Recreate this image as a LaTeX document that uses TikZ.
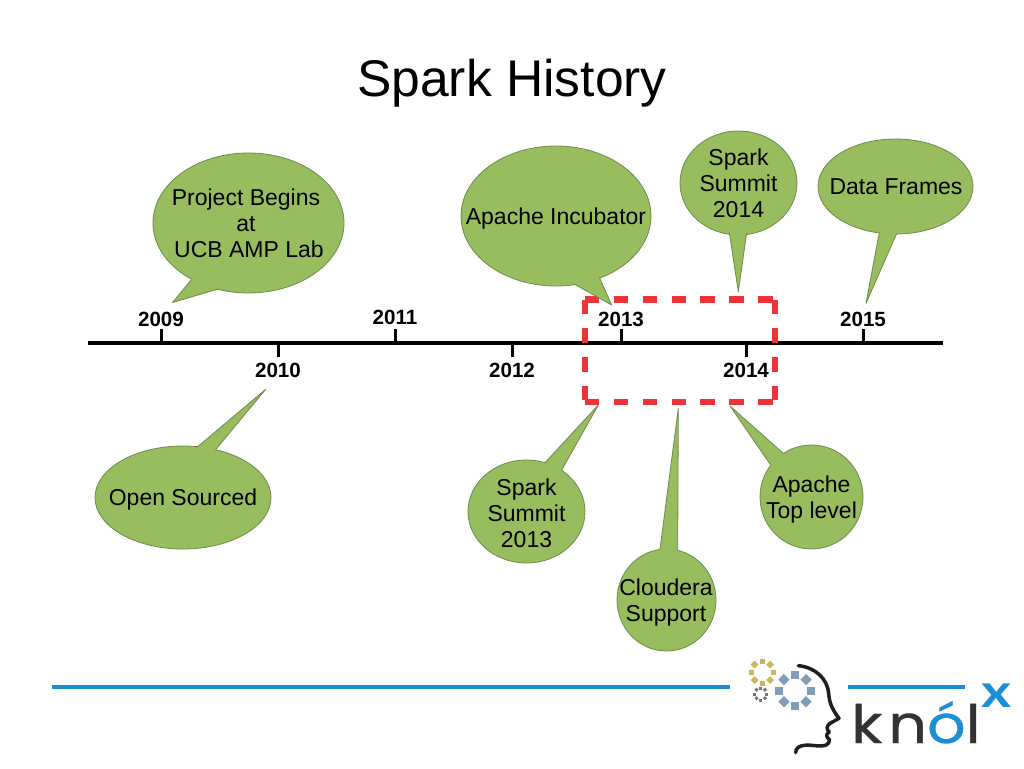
\documentclass[tikz,border=0pt]{standalone}
\usepackage{fontspec}
\setmainfont{Liberation Sans}
\newfontfamily\logofont[LetterSpace=10,FakeBold=0.6]{Poppins}
\newfontfamily\logoplain{Lato}
\usetikzlibrary{shapes.geometric,calc}
\definecolor{bub}{HTML}{97BD5E}
\definecolor{bubline}{HTML}{6F8A4A}
\definecolor{hl}{HTML}{EE3338}
\definecolor{rule}{HTML}{1B8FD6}
\definecolor{gold}{HTML}{CDB45E}
\definecolor{steel}{HTML}{7F9DB8}
\definecolor{ash}{HTML}{777777}
\tikzset{
  bubble/.style={ellipse,draw=bubline,fill=bub,line width=0.8pt,inner sep=0pt},
  saying/.style={font=\fontsize{23}{26}\selectfont,align=center,inner sep=0pt,text=black},
  yearlabel/.style={font=\fontsize{20.6}{24}\selectfont\bfseries,inner sep=0pt,text=black},
  tick/.style={line width=3pt,black},
  hlside/.style={hl,line width=6.6pt,dash pattern=on 14.4pt off 14.45pt},
  cell/.style={minimum size=#1,inner sep=0pt,draw=none}
}
% name, centre, width, height, tip, wedge base left, wedge base right
\newcommand\mybubble[7]{%
  \node[bubble,minimum width=#3pt,minimum height=#4pt] (#1) at (#2) {};
  \coordinate (#1tip) at (#5);
  \coordinate (#1l) at (#6);
  \coordinate (#1r) at (#7);
  \fill[bub] (#1tip) -- (#1l) -- (#1.center) -- (#1r) -- cycle;
  \draw[bubline,line width=0.8pt,line join=round] (#1l) -- (#1tip) -- (#1r);
}
\begin{document}
\begin{tikzpicture}[x=1pt,y=-1pt]
\useasboundingbox (0,0) rectangle (1024,768);
\fill[white] (0,0) rectangle (1024,768);
\node[font=\fontsize{51.6}{56}\selectfont,inner sep=0pt] (title) at (512,83) {Spark History};

% axis
\coordinate (axL) at (88,343); \coordinate (axR) at (943,343);
\draw[line width=4pt,black] (axL) -- (axR);
\foreach \n/\x/\yy/\ly/\t in {a/161/329/319.5/2009,b/278/357/370.5/2010,c/395/329/317.5/2011,d/512/357/370.5/2012,e/621/329/319.5/2013,f/746/357/370.5/2014,g/863/329/319.5/2015}{
  \coordinate (base\n) at (\x,343);
  \coordinate (end\n) at (\x,\yy);
  \draw[tick] (base\n) -- (end\n);
  \node[yearlabel] (year\n) at (\x,\ly) {\t};
}

% lower callouts
\mybubble{b1}{248.5,223}{191}{140}{172.5,302.5}{191.7,279.3}{218.3,289}
\mybubble{b2}{183,497.5}{176}{103}{265.7,389.3}{196.7,447.5}{215.7,449.5}
\mybubble{b3}{526.5,511.5}{117}{103}{598.3,405}{545,462.7}{561.7,470}
\mybubble{b4}{666.5,600}{99}{102}{678.3,408.3}{660,549.3}{677.7,549.8}
\mybubble{b5}{811.5,497}{103}{104}{730,406}{770.7,465}{783.3,453.3}

% highlight
\coordinate (hlA) at (585,299.5); \coordinate (hlB) at (775,402);
\draw[hlside] (hlA) -- (hlA -| hlB);
\draw[hlside] (hlA |- hlB) -- (hlB);
\draw[hlside] (hlA) -- (hlA |- hlB);
\draw[hlside] (hlA -| hlB) -- (hlB);

% upper callouts
\mybubble{b6}{556,216}{190}{140}{611.7,305}{575,284.5}{599.3,277.3}
\mybubble{b7}{738.5,183}{117}{104}{738.3,291.7}{729.3,232.5}{746.7,232.5}
\mybubble{b8}{895.5,186.5}{155}{95}{866,303.3}{879.3,232.5}{896.7,233.5}

\node[saying] (t1) at (246,223) {Project Begins\\at\\\hspace*{6pt}UCB AMP Lab};
\node[saying] (t2) at (183,499.5) {Open Sourced};
\node[saying] (t3) at (526.5,513) {Spark\\Summit\\2013};
\node[saying] (t4) at (666,602.5) {Cloudera\\Support};
\node[saying] (t5) at (811.5,499.5) {Apache\\Top level};
\node[saying] (t6) at (556,218.5) {Apache Incubator};
\node[saying] (t7) at (738.5,183) {Spark\\Summit\\2014};
\node[saying] (t8) at (896,186.5) {Data Frames};

% footer rules
\coordinate (r1a) at (52,687); \coordinate (r1b) at (730,687);
\coordinate (r2a) at (848,687); \coordinate (r2b) at (965,687);
\draw[rule,line width=3.5pt] (r1a) -- (r1b);
\draw[rule,line width=3.5pt] (r2a) -- (r2b);

% logo
\begin{scope}[shift={(730,650)},x=0.3333pt,y=-0.3333pt]
  \draw[black!88,line width=3.5pt,line cap=round,line join=round]
    (205,47) .. controls (255,52) and (292,85) .. (296,130)
    .. controls (298,160) and (308,180) .. (327,205)
    -- (300,220) .. controls (290,228) and (288,238) .. (298,246)
    .. controls (285,254) and (290,262) .. (298,268)
    .. controls (300,285) and (285,290) .. (255,287)
    .. controls (225,283) and (198,285) .. (197,308);
  \foreach \a in {0,45,...,315}{
    \node[cell=5.5pt,fill=gold,rotate=\a] (gc\a) at ($(97,67)+(\a:33)$) {};
    \node[cell=8pt,fill=steel,rotate=\a] (sc\a) at ($(195,122)+(\a:47)$) {};
    \node[cell=3pt,fill=ash,rotate=\a] (ac\a) at ($(92,132)+(\a:18)$) {};
  }
\end{scope}
\node[font=\fontsize{53}{53}\selectfont\logofont,inner sep=0pt,anchor=base west,text=black!80,xscale=1.14] (knol) at (851,743) {kn\textcolor{rule}{ó}l};
\node[font=\fontsize{46}{46}\selectfont\logoplain\bfseries,inner sep=0pt,text=rule,xscale=1.25] (logox) at (996,696) {x};
\end{tikzpicture}
\end{document}
